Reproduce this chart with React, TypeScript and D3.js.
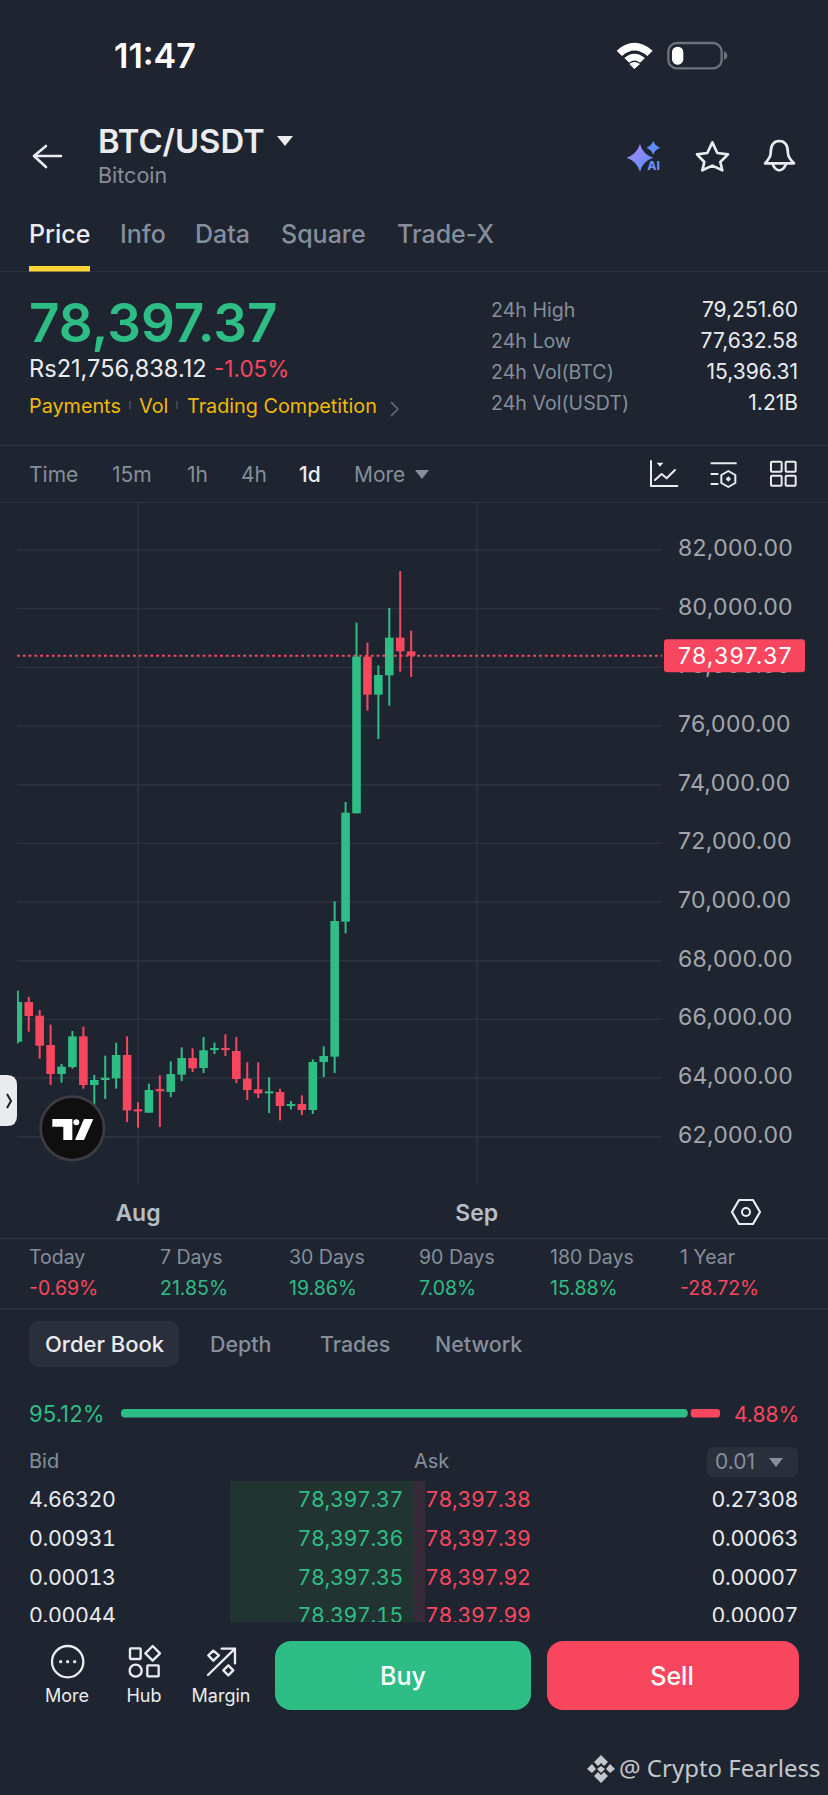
import { useEffect, useRef } from "react"
import * as d3 from "d3"

const BG = "#1f2530"
const GREEN = "#2ebd85"
const RED = "#f8465f"
const GRAY = "#848e9c"
const PANEL = "#2a303b"

// * Daily candles, 21 Jul to 26 Aug
const firstDay = Date.UTC(2024, 6, 21)
const opens = [65239, 66591, 66125, 65125, 64137, 64375, 65421, 63762, 63932, 63989, 64785, 62932, 62819, 63625, 63523, 64114, 64682, 64341, 64955, 65023, 64921, 63978, 63614, 63478, 63523, 63057, 63114, 62910, 64546, 64728, 69330, 73023, 78364, 77069, 77728, 79012, 78546]
const highs = [66978, 66762, 66319, 65819, 64478, 65603, 65750, 64103, 64762, 65205, 65421, 63171, 63807, 64091, 64569, 65046, 65012, 65398, 65205, 65489, 65398, 64535, 64535, 64023, 63637, 63216, 63410, 64637, 65080, 70023, 73409, 79523, 78841, 78068, 80023, 81284, 79250]
const lows = [65182, 65580, 64659, 63762, 63841, 64319, 63637, 63023, 63285, 63637, 62501, 62307, 62819, 62330, 63353, 63898, 64205, 64171, 64819, 64750, 63830, 63251, 63319, 62807, 62557, 62932, 62739, 62773, 64034, 64171, 68932, 73023, 76523, 75557, 76694, 77853, 77671]
const closes = [66591, 66114, 65103, 64137, 64387, 65421, 63762, 63932, 64012, 64785, 62898, 62864, 63591, 63546, 64137, 64682, 64330, 64944, 65023, 64955, 63966, 63591, 63478, 63546, 63046, 63114, 62910, 64546, 64751, 69352, 73045, 78364, 77069, 77739, 79012, 78546, 78397.37]

const lastPrice = 78397.37
const priceTicks = [82000, 80000, 78000, 76000, 74000, 72000, 70000, 68000, 66000, 64000, 62000]
const monthTicks = [Date.UTC(2024, 7, 1), Date.UTC(2024, 8, 1)]

const headerTabs = ["Price", "Info", "Data", "Square", "Trade-X"]
const headerTabX = [29, 120, 195, 281, 397]
const statLabels = ["24h High", "24h Low", "24h Vol(BTC)", "24h Vol(USDT)"]
const statValues = ["79,251.60", "77,632.58", "15,396.31", "1.21B"]
const intervals = ["Time", "15m", "1h", "4h", "1d", "More"]
const intervalX = [29, 112, 187, 241, 299, 354]
const periodLabels = ["Today", "7 Days", "30 Days", "90 Days", "180 Days", "1 Year"]
const periodValues = ["-0.69%", "21.85%", "19.86%", "7.08%", "15.88%", "-28.72%"]
const periodX = [29, 160, 289, 419, 550, 680]
const bookTabs = ["Depth", "Trades", "Network"]
const bookTabX = [210, 320, 435]
const bidShare = 95.12
const askShare = 4.88
const bidSizes = ["4.66320", "0.00931", "0.00013", "0.00044"]
const bidPrices = ["78,397.37", "78,397.36", "78,397.35", "78,397.15"]
const askPrices = ["78,397.38", "78,397.39", "78,397.92", "78,397.99"]
const askSizes = ["0.27308", "0.00063", "0.00007", "0.00007"]
const rowBaselines = [1507, 1546, 1585, 1623]

function CandleChart() {
  const ref = useRef<SVGGElement>(null)

  useEffect(() => {
    if (!ref.current) return
    const g = d3.select(ref.current)
    g.selectAll("*").remove()

    const left = 17
    const right = 662
    const top = 502
    const bottom = 1185

    const y = d3.scaleLinear().domain([82000, 62000]).range([550, 1136.7])
    const x = d3.scaleUtc().domain(monthTicks).range([138, 476.7])

    const candles = opens.map((open, i) => ({
      day: d3.utcDay.offset(new Date(firstDay), i),
      open,
      high: highs[i],
      low: lows[i],
      close: closes[i],
    }))

    // * Clip the first candle at the plot edge
    g.append("clipPath")
      .attr("id", "plot-clip")
      .append("rect")
      .attr("x", left)
      .attr("y", top)
      .attr("width", right - left)
      .attr("height", bottom - top)

    // * Grid
    g.selectAll(".hgrid")
      .data(priceTicks)
      .join("line")
      .attr("x1", left)
      .attr("x2", right)
      .attr("y1", (d) => y(d))
      .attr("y2", (d) => y(d))
      .attr("stroke", "#2e343f")
      .attr("stroke-width", 1.4)

    g.selectAll(".vgrid")
      .data(monthTicks)
      .join("line")
      .attr("x1", (d) => x(d))
      .attr("x2", (d) => x(d))
      .attr("y1", top)
      .attr("y2", bottom)
      .attr("stroke", "#2e343f")
      .attr("stroke-width", 1.4)

    // * Last price line
    g.append("line")
      .attr("x1", left)
      .attr("x2", right)
      .attr("y1", y(lastPrice))
      .attr("y2", y(lastPrice))
      .attr("stroke", RED)
      .attr("stroke-width", 2)
      .attr("stroke-dasharray", "2.8,3")

    // * Candles
    const marks = g.append("g").attr("clip-path", "url(#plot-clip)")
    const candle = marks.selectAll("g").data(candles).join("g")
    const color = (d: { open: number; close: number }) => (d.close >= d.open ? GREEN : RED)

    candle
      .append("rect")
      .attr("x", (d) => x(d.day) - 1)
      .attr("width", 2)
      .attr("y", (d) => y(d.high))
      .attr("height", (d) => y(d.low) - y(d.high))
      .attr("fill", color)

    candle
      .append("rect")
      .attr("x", (d) => x(d.day) - 4.3)
      .attr("width", 8.6)
      .attr("y", (d) => y(Math.max(d.open, d.close)))
      .attr("height", (d) => Math.max(2, Math.abs(y(d.open) - y(d.close))))
      .attr("fill", color)

    // * Price axis
    const axis = g
      .append("g")
      .attr("transform", "translate(678,-2)")
      .call(d3.axisRight(y).tickValues(priceTicks).tickSize(0).tickPadding(0).tickFormat(d3.format(",.2f")))
    axis.select(".domain").remove()
    axis
      .selectAll("text")
      .attr("font-size", 23)
      .attr("font-family", "Inter")
      .attr("fill", "#a3a7ad")
      .attr("letter-spacing", 0.3)

    // * Last price tag
    g.append("rect")
      .attr("x", 664)
      .attr("y", y(lastPrice) - 16.5)
      .attr("width", 141)
      .attr("height", 33)
      .attr("rx", 3)
      .attr("fill", RED)
    g.append("text")
      .attr("x", 678)
      .attr("y", y(lastPrice) + 8)
      .attr("font-size", 23)
      .attr("letter-spacing", 1.2)
      .attr("fill", "#fff")
      .text(d3.format(",.2f")(lastPrice))

    // * Month labels
    g.selectAll(".month")
      .data(monthTicks)
      .join("text")
      .attr("x", (d) => x(d))
      .attr("y", 1221)
      .attr("text-anchor", "middle")
      .attr("font-size", 23)
      .attr("font-weight", 600)
      .attr("fill", "#b7bdc6")
      .text((d) => d3.utcFormat("%b")(new Date(d)))
  }, [])

  return <g ref={ref} />
}

export default function App() {
  const shareX = d3.scaleLinear().domain([0, 100]).range([121, 720])
  const stroke = { fill: "none", stroke: "#eaecef", strokeLinecap: "round" as const, strokeLinejoin: "round" as const }
  const bookText = { fontSize: 21.4, letterSpacing: -0.35, style: { fontVariantNumeric: "tabular-nums" } }

  return (
    <svg
      width={828}
      height={1795}
      viewBox="0 0 828 1795"
      fontFamily="Inter, 'Noto Sans', sans-serif"
      style={{ position: "absolute", left: 0, top: 0, display: "block" }}
    >
      <defs>
        <linearGradient id="ai-grad" x1="0" y1="0" x2="1" y2="1">
          <stop offset="0%" stopColor="#b18cf5" />
          <stop offset="100%" stopColor="#4f8dff" />
        </linearGradient>
        <clipPath id="book-clip">
          <rect x={0} y={1481} width={828} height={141} />
        </clipPath>
      </defs>
      <rect width={828} height={1795} fill={BG} />

      {/* status bar */}
      <text x={114} y={68} fontSize={34} fontWeight={600} fill="#fff">11:47</text>
      <g transform="translate(570,30) scale(0.3333)">
        <path d="M140 62 Q193 15 248 62 L232 78 Q193 45 156 78 Z" fill="#fff" />
        <path d="M163 84 Q193 58 225 84 L210 98 Q193 85 178 98 Z" fill="#fff" />
        <path d="M178 102 Q193 90 210 102 L193 117 Z" fill="#fff" />
        <rect x={295} y={39} width={160} height={76} rx={26} fill="none" stroke="#6d727c" strokeWidth={7} />
        <rect x={306} y={50} width={34} height={54} rx={16} fill="#fff" />
        <path d="M462 64 Q472 68 472 77 Q472 86 462 90 Z" fill="#6d727c" />
      </g>

      {/* header */}
      <path d="M61 156 H35 M46 146 L34 156 L46 167" {...stroke} strokeWidth={2.6} fill="none" />
      <text x={98} y={153} fontSize={32.8} fontWeight={600} fill="#eaecef">BTC/USDT</text>
      <path d="M277 136 H293 L285 146 Z" fill="#eaecef" />
      <text x={98} y={183} fontSize={21.5} fill={GRAY}>Bitcoin</text>
      <g transform="translate(610,125) scale(0.3333)">
        <path d="M90 57 Q98 88 130 98 Q98 108 90 140 Q80 108 50 98 Q80 88 90 57 Z" fill="url(#ai-grad)" />
        <path d="M130 47 Q134 62 151 68 Q134 74 130 89 Q124 74 109 68 Q124 62 130 47 Z" fill="#5f8cff" />
        <text x={112} y={136} fontSize={36} fontWeight={800} fill="#6f8df5">AI</text>
        <path d="M307 52 L322 84 L354 88 L331 111 L337 136 L307 122 L277 136 L283 111 L261 88 L292 84 Z" {...stroke} strokeWidth={8} />
        <path d="M465 115 Q482 98 482 85 Q482 48 508 48 Q534 48 534 85 Q534 98 552 115 Z" {...stroke} strokeWidth={8} />
        <path d="M488 118 Q496 136 508 136 Q520 136 528 118" {...stroke} strokeWidth={8} />
      </g>

      {/* page tabs */}
      {headerTabs.map((t, i) => (
        <text key={t} x={headerTabX[i]} y={243} fontSize={25} fontWeight={500} fill={i === 0 ? "#eaecef" : GRAY}>{t}</text>
      ))}
      <rect x={0} y={271} width={828} height={1} fill="#2b313c" />
      <rect x={29} y={266} width={61} height={5.5} fill="#fcd535" />

      {/* price block */}
      <text x={29} y={342} fontSize={53} fontWeight={600} fill={GREEN}>78,397.37</text>
      <text x={29} y={377} fontSize={23.6} fill="#eaecef">Rs21,756,838.12</text>
      <text x={214} y={377} fontSize={22.5} fill={RED}>-1.05%</text>
      <g fontSize={19.8} fill="#f0b90b">
        <text x={29} y={413}>Payments</text>
        <text x={139} y={413}>Vol</text>
        <text x={187} y={413}>Trading Competition</text>
      </g>
      <path d="M130 401 V409 M177 401 V409" stroke="#4a4f58" strokeWidth={1.5} />
      <path d="M391 402 L398 409 L391 416" fill="none" stroke="#5c626d" strokeWidth={1.8} />
      {statLabels.map((t, i) => (
        <g key={t}>
          <text x={491} y={317 + i * 31} fontSize={19.6} fill={GRAY}>{t}</text>
          <text x={798} y={317 + i * 31} fontSize={21} textAnchor="end" fill="#eaecef">{statValues[i]}</text>
        </g>
      ))}
      <rect x={0} y={445} width={828} height={1} fill="#2f3540" />

      {/* interval bar */}
      {intervals.map((t, i) => (
        <text key={t} x={intervalX[i]} y={482} fontSize={21} fontWeight={i === 4 ? 500 : 400} fill={i === 4 ? "#eaecef" : GRAY}>{t}</text>
      ))}
      <path d="M415 470 H429 L422 479 Z" fill={GRAY} />
      <g transform="translate(640,450) scale(0.3333)">
        <path d="M33 33 V108 H112 M45 90 L65 72 L80 85 L105 60" {...stroke} strokeWidth={6} />
        <path d="M50 38 H70 L60 50 Z" fill="#eaecef" />
        <path d="M212 40 H290 M212 72 H235 M212 102 H235" {...stroke} strokeLinecap="butt" strokeWidth={6} />
        <path d="M265 63 L286 75 V99 L265 111 L244 99 V75 Z" {...stroke} strokeWidth={6} />
        <path d="M265 79 L273 87 L265 95 L257 87 Z" fill="#eaecef" />
        <g {...stroke} strokeWidth={6}>
          <rect x={393} y={35} width={32} height={30} rx={3} />
          <rect x={437} y={35} width={30} height={30} rx={3} />
          <rect x={393} y={77} width={32} height={30} rx={3} />
          <rect x={437} y={77} width={30} height={30} rx={3} />
        </g>
      </g>
      <rect x={0} y={502} width={828} height={1} fill="#2b313c" />

      <CandleChart />

      {/* drawer handle */}
      <path d="M0 1075 H7 Q17 1075 17 1085 V1116 Q17 1126 7 1126 H0 Z" fill="#e9ebee" />
      <path d="M7 1094 L11 1101 L7 1108" fill="none" stroke="#1b1e24" strokeWidth={2} />

      {/* chart logo */}
      <g transform="translate(0,960) scale(0.3333)">
        <circle cx={217} cy={505} r={95} fill="#0f0f0f" stroke="#3b3e44" strokeWidth={8} />
        <path d="M157 477 H217 V540 H190 V500 H157 Z" fill="#fff" />
        <circle cx={229} cy={487} r={9} fill="#fff" />
        <path d="M252 477 H280 L252 540 H225 Z" fill="#fff" />
      </g>

      {/* hexagon settings */}
      <path d="M739 1200 H753 L760 1212 L753 1224 H739 L732 1212 Z" {...stroke} strokeWidth={2.2} />
      <circle cx={746} cy={1212} r={4} {...stroke} strokeWidth={2} />
      <rect x={0} y={1238} width={828} height={1} fill="#2f3540" />

      {/* period returns */}
      {periodLabels.map((t, i) => (
        <g key={t} fontSize={19.5}>
          <text x={periodX[i]} y={1264} fill={GRAY}>{t}</text>
          <text x={periodX[i]} y={1295} fill={periodValues[i].startsWith("-") ? RED : GREEN}>{periodValues[i]}</text>
        </g>
      ))}
      <rect x={0} y={1308} width={828} height={1.5} fill="#2f3540" />

      {/* book tabs */}
      <rect x={29} y={1321} width={150} height={46} rx={10} fill={PANEL} />
      <text x={45} y={1352} fontSize={22} fontWeight={500} fill="#eaecef">Order Book</text>
      {bookTabs.map((t, i) => (
        <text key={t} x={bookTabX[i]} y={1352} fontSize={21.4} fontWeight={500} fill={GRAY}>{t}</text>
      ))}

      {/* bid / ask share */}
      <text x={29} y={1422} fontSize={22.2} fill={GREEN}>{bidShare.toFixed(2)}%</text>
      <text x={799} y={1422} fontSize={21} textAnchor="end" fill={RED}>{askShare.toFixed(2)}%</text>
      <rect x={shareX(0)} y={1409} width={shareX(bidShare) - shareX(0) - 3} height={8.5} rx={4} fill={GREEN} />
      <rect x={shareX(bidShare)} y={1409} width={shareX(askShare) - shareX(0)} height={8.5} rx={3} fill={RED} />

      {/* order book */}
      <text x={29} y={1468} fontSize={20} fill={GRAY}>Bid</text>
      <text x={414} y={1468} fontSize={20} fill={GRAY}>Ask</text>
      <rect x={707} y={1447} width={91} height={30} rx={6} fill={PANEL} />
      <text x={715} y={1469} fontSize={21} fill={GRAY}>0.01</text>
      <path d="M769 1458 H783 L776 1467 Z" fill={GRAY} />
      <g clipPath="url(#book-clip)">
        <rect x={230} y={1481} width={184} height={141} fill="#223431" />
        <rect x={414} y={1481} width={11} height={141} fill="#382b39" />
        {rowBaselines.map((yy, i) => (
          <g key={yy}>
            <text x={29} y={yy} {...bookText} fill="#eaecef">{bidSizes[i]}</text>
            <text x={403} y={yy} {...bookText} textAnchor="end" fill={GREEN}>{bidPrices[i]}</text>
            <text x={425} y={yy} {...bookText} fill={RED}>{askPrices[i]}</text>
            <text x={798} y={yy} {...bookText} textAnchor="end" fill="#eaecef">{askSizes[i]}</text>
          </g>
        ))}
      </g>

      {/* bottom bar */}
      <g transform="translate(30,1630) scale(0.3333)">
        <circle cx={113} cy={95} r={47} {...stroke} strokeWidth={7} />
        <circle cx={92} cy={95} r={5} fill="#eaecef" />
        <circle cx={113} cy={95} r={5} fill="#eaecef" />
        <circle cx={134} cy={95} r={5} fill="#eaecef" />
        <g {...stroke} strokeWidth={7}>
          <rect x={300} y={55} width={32} height={32} rx={2} />
          <path d="M368 48 L390 70 L368 92 L346 70 Z" />
          <circle cx={317} cy={122} r={18} />
          <rect x={352} y={106} width={34} height={33} rx={2} />
          <path d="M534 135 L615 56 M575 56 H615 V100" />
          <path d="M550 62 L567 76 L550 92 L535 76 Z" />
          <path d="M595 106 L610 121 L595 136 L580 121 Z" />
        </g>
      </g>
      <g fontSize={18} textAnchor="middle" fill="#eaecef">
        <text x={67} y={1702}>More</text>
        <text x={144} y={1702}>Hub</text>
        <text x={221} y={1702}>Margin</text>
      </g>
      <rect x={275} y={1641} width={256} height={69} rx={16} fill={GREEN} />
      <rect x={547} y={1641} width={252} height={69} rx={16} fill={RED} />
      <text x={403} y={1685} fontSize={25} fontWeight={500} textAnchor="middle" fill="#fff">Buy</text>
      <text x={672} y={1685} fontSize={25} fontWeight={500} textAnchor="middle" fill="#fff">Sell</text>

      {/* watermark */}
      <g fill="#c4c7cc">
        <path d="M601 1755 L608 1762 L604 1766 L601 1763 L598 1766 L594 1762 Z" />
        <path d="M592 1764 L596 1769 L592 1773 L587 1769 Z" />
        <path d="M610 1764 L615 1769 L610 1773 L606 1769 Z" />
        <path d="M601 1766 L605 1769 L601 1773 L597 1769 Z" />
        <path d="M598 1772 L601 1775 L604 1772 L608 1776 L601 1783 L594 1776 Z" />
      </g>
      <text x={619} y={1777} fontSize={24} fontFamily="'Noto Sans', sans-serif" fill="#c4c7cc">@ Crypto Fearless</text>
    </svg>
  )
}
